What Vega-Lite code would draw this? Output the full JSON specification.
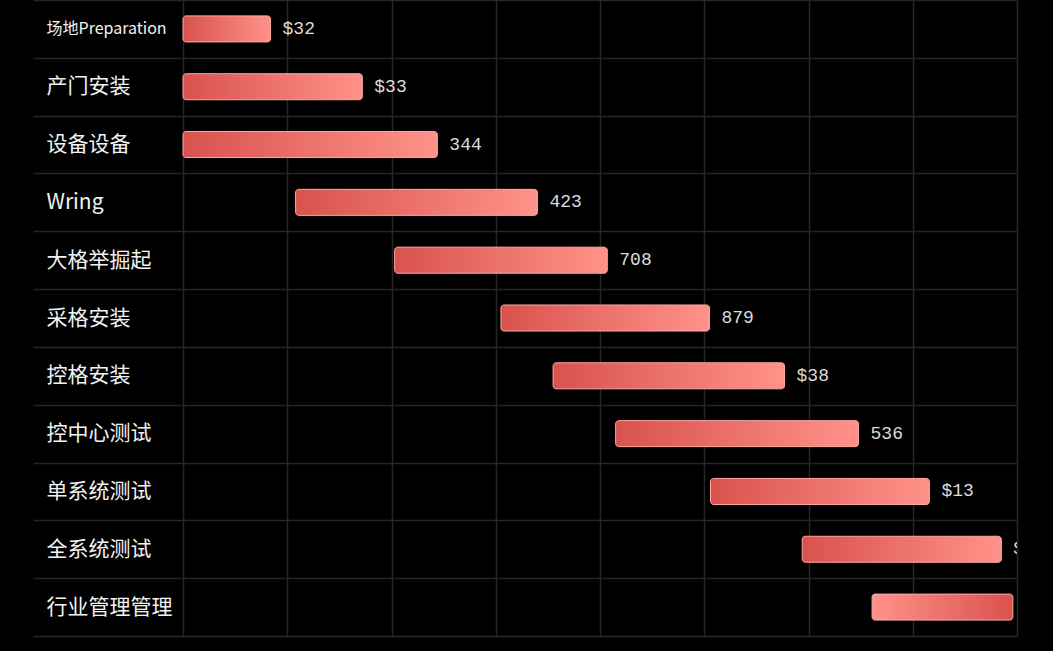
{
  "$schema": "https://vega.github.io/schema/vega-lite/v6.json",
  "description": "Project schedule bars on a dark background.",
  "autosize": "none",
  "padding": {"left": 183, "top": 0, "right": 36, "bottom": 15},
  "width": 834,
  "height": 636,
  "background": "#000000",
  "config": {
    "view": {"stroke": null},
    "font": "Noto Sans CJK SC"
  },
  "data": {
    "values": [
      {"task": "场地Preparation", "start": 0, "end": 8.4, "label": "$32"},
      {"task": "产门安装", "start": 0, "end": 17.2, "label": "$33"},
      {"task": "设备设备", "start": 0, "end": 24.4, "label": "344"},
      {"task": "Wring", "start": 10.8, "end": 34.0, "label": "423"},
      {"task": "大格举掘起", "start": 20.3, "end": 40.7, "label": "708"},
      {"task": "采格安装", "start": 30.5, "end": 50.5, "label": "879"},
      {"task": "控格安装", "start": 35.5, "end": 57.7, "label": "$38"},
      {"task": "控中心测试", "start": 41.5, "end": 64.8, "label": "536"},
      {"task": "单系统测试", "start": 50.6, "end": 71.6, "label": "$13"},
      {"task": "全系统测试", "start": 59.4, "end": 78.5, "label": "$18"},
      {"task": "行业管理管理", "start": 66.1, "end": 79.6, "label": ""}
    ]
  },
  "encoding": {
    "y": {
      "field": "task",
      "type": "nominal",
      "sort": null,
      "title": null,
      "scale": {"paddingInner": 0, "paddingOuter": 0},
      "axis": {
        "domain": false,
        "grid": true,
        "gridColor": "#262626",
        "gridWidth": 1.5,
        "tickBand": "extent",
        "ticks": true,
        "tickSize": 150,
        "tickColor": "#262626",
        "tickWidth": 1.5,
        "labelAlign": "left",
        "labelPadding": -13,
        "labelFontSize": {"expr": "datum.label == '场地Preparation' ? 16 : 21"},
        "labelColor": "#f2f2f2",
        "labelLimit": 200,
        "labelFont": "Noto Sans CJK SC"
      }
    },
    "x": {
      "field": "start",
      "type": "quantitative",
      "title": null,
      "scale": {"domain": [0, 80], "nice": false},
      "axis": {
        "values": [0, 10, 20, 30, 40, 50, 60, 70, 80],
        "labels": false,
        "ticks": false,
        "domain": false,
        "grid": true,
        "gridColor": "#262626",
        "gridWidth": 1.5
      }
    }
  },
  "layer": [
    {
      "transform": [{"filter": "datum.task != '行业管理管理'"}],
      "mark": {
        "type": "bar",
        "height": {"band": 0.45},
        "cornerRadius": 3,
        "stroke": "#ffa9a2",
        "strokeWidth": 1,
        "color": {
          "gradient": "linear",
          "x1": 0, "x2": 1, "y1": 0, "y2": 0,
          "stops": [
            {"offset": 0, "color": "#d9524e"},
            {"offset": 1, "color": "#ff928a"}
          ]
        }
      },
      "encoding": {"x2": {"field": "end"}}
    },
    {
      "transform": [{"filter": "datum.task == '行业管理管理'"}],
      "mark": {
        "type": "bar",
        "height": {"band": 0.45},
        "cornerRadius": 3,
        "stroke": "#ffa9a2",
        "strokeWidth": 1,
        "color": {
          "gradient": "linear",
          "x1": 0, "x2": 1, "y1": 0, "y2": 0,
          "stops": [
            {"offset": 0, "color": "#ff928a"},
            {"offset": 1, "color": "#d9524e"}
          ]
        }
      },
      "encoding": {"x2": {"field": "end"}}
    },
    {
      "mark": {
        "type": "text",
        "align": "left",
        "baseline": "middle",
        "dx": 12,
        "font": "Liberation Mono",
        "fontSize": 18,
        "color": "#dddddd",
        "clip": true
      },
      "encoding": {
        "x": {"field": "end", "type": "quantitative"},
        "text": {"field": "label"}
      }
    }
  ]
}
